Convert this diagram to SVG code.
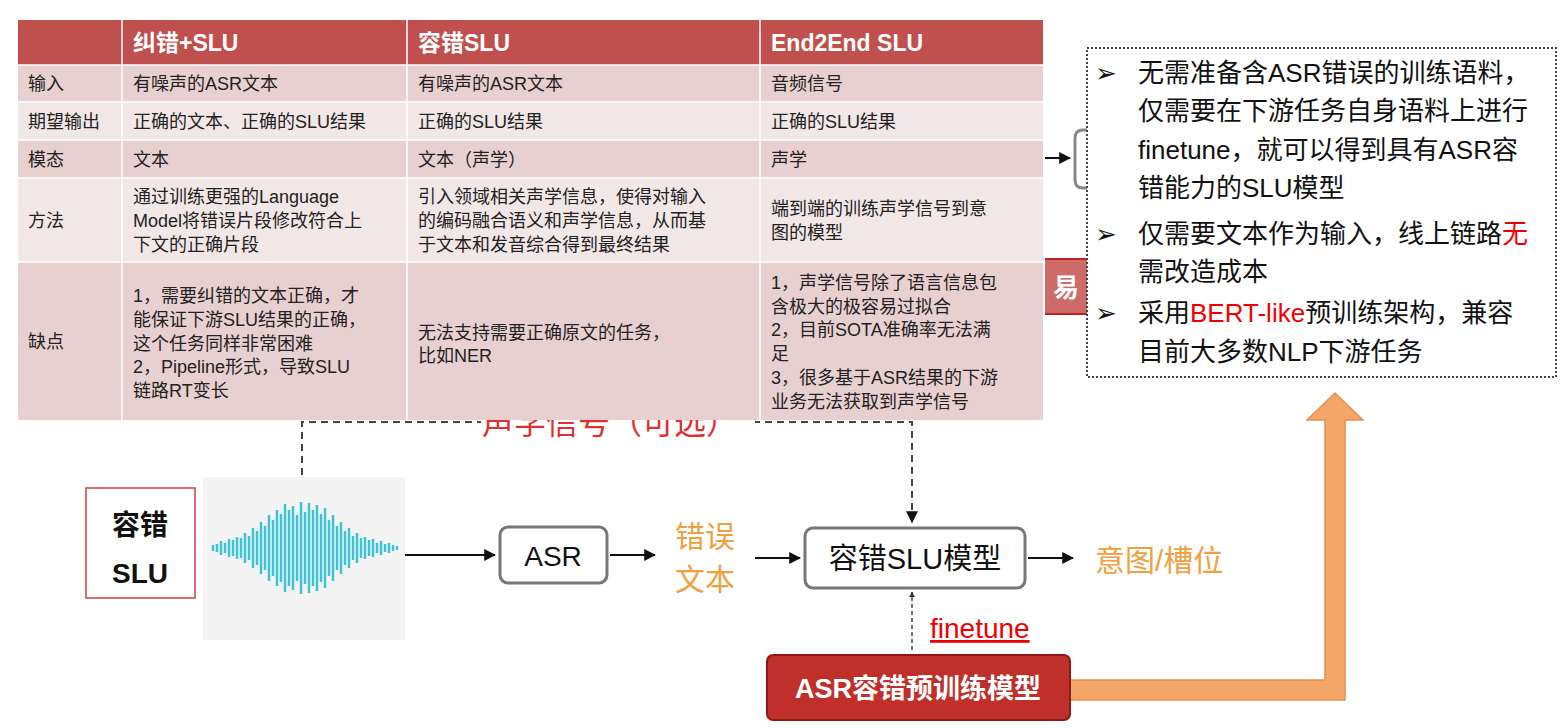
<svg xmlns="http://www.w3.org/2000/svg" width="1563" height="728" viewBox="0 0 1563 728">
<style>
text{font-family:"Liberation Sans","Noto Sans CJK SC",sans-serif}
.c{font-size:18px;fill:#222}
.h{font-size:23px;fill:#fff;font-weight:bold}
.d{fill:#e8d0d0}.l{fill:#f2e7e7}
.b{font-size:26px;fill:#111}
.box{fill:#fff;stroke:#777;stroke-width:3}
.ln{stroke:#111;stroke-width:2;fill:none}
.ds{stroke:#444;stroke-width:2;fill:none;stroke-dasharray:7 5}
.or{font-size:30px;fill:#f0a040}
</style>
<defs>
<marker id="a" viewBox="0 0 10 10" refX="9" refY="5" markerWidth="6" markerHeight="6" orient="auto"><path d="M0,0L10,5L0,10z" fill="#111"/></marker>
<marker id="a2" viewBox="0 0 10 10" refX="9" refY="5" markerWidth="4" markerHeight="4" orient="auto"><path d="M0,0L10,5L0,10z" fill="#333"/></marker>
</defs>
<rect width="1563" height="728" fill="#fff"/>
<g id="connectors">
<path class="ds" d="M302,475V422H912V522" marker-end="url(#a)"/>
<path d="M912,650V592" stroke="#444" stroke-width="1.5" stroke-dasharray="4 3" fill="none" marker-end="url(#a2)"/>
<path class="ln" d="M405,555H495" marker-end="url(#a)"/>
<path class="ln" d="M610,555H655" marker-end="url(#a)"/>
<path class="ln" d="M755,558H800" marker-end="url(#a)"/>
<path class="ln" d="M1028,558H1073" marker-end="url(#a)"/>
<path class="ln" d="M1045,158H1070" marker-end="url(#a)"/>
<path d="M1070,680H1325V420H1307L1335,393L1363,420H1345V700H1070Z" fill="#f2a668" stroke="#e89050" stroke-width="1.5"/>
</g>
<rect x="481" y="415" width="274" height="30" fill="#fff"/>
<text x="610" y="434" font-size="32" fill="#e03030" text-anchor="middle">声学信号（可选）</text>
<g id="table">
<rect x="18" y="20" width="1025" height="45" fill="#c0504d"/>
<rect x="18" y="65" width="1025" height="37" class="d"/>
<rect x="18" y="102" width="1025" height="38" class="l"/>
<rect x="18" y="140" width="1025" height="38" class="d"/>
<rect x="18" y="178" width="1025" height="84" class="l"/>
<rect x="18" y="262" width="1025" height="158" class="d"/>
<g stroke="#fff" stroke-width="1.5"><path d="M122,20V420M407,20V420M760,20V420M18,65H1043M18,102H1043M18,140H1043M18,178H1043M18,262H1043"/></g>
<text class="h" x="133" y="51">纠错+SLU</text><text class="h" x="418" y="51">容错SLU</text><text class="h" x="771" y="51">End2End SLU</text>
<text class="c" x="28" y="90">输入</text><text class="c" x="133" y="90">有噪声的ASR文本</text><text class="c" x="418" y="90">有噪声的ASR文本</text><text class="c" x="771" y="90">音频信号</text>
<text class="c" x="28" y="128">期望输出</text><text class="c" x="133" y="128">正确的文本、正确的SLU结果</text><text class="c" x="418" y="128">正确的SLU结果</text><text class="c" x="771" y="128">正确的SLU结果</text>
<text class="c" x="28" y="166">模态</text><text class="c" x="133" y="166">文本</text><text class="c" x="418" y="166">文本（声学）</text><text class="c" x="771" y="166">声学</text>
<text class="c" x="28" y="227">方法</text>
<text class="c" x="133" y="203">通过训练更强的Language</text><text class="c" x="133" y="227">Model将错误片段修改符合上</text><text class="c" x="133" y="251">下文的正确片段</text>
<text class="c" x="418" y="203">引入领域相关声学信息，使得对输入</text><text class="c" x="418" y="227">的编码融合语义和声学信息，从而基</text><text class="c" x="418" y="251">于文本和发音综合得到最终结果</text>
<text class="c" x="771" y="215">端到端的训练声学信号到意</text><text class="c" x="771" y="239">图的模型</text>
<text class="c" x="28" y="348">缺点</text>
<text class="c" x="133" y="302">1，需要纠错的文本正确，才</text><text class="c" x="133" y="326">能保证下游SLU结果的正确，</text><text class="c" x="133" y="350">这个任务同样非常困难</text><text class="c" x="133" y="373">2，Pipeline形式，导致SLU</text><text class="c" x="133" y="397">链路RT变长</text>
<text class="c" x="418" y="339">无法支持需要正确原文的任务，</text><text class="c" x="418" y="362">比如NER</text>
<text class="c" x="771" y="289">1，声学信号除了语言信息包</text><text class="c" x="771" y="313">含极大的极容易过拟合</text><text class="c" x="771" y="336">2，目前SOTA准确率无法满</text><text class="c" x="771" y="360">足</text><text class="c" x="771" y="384">3，很多基于ASR结果的下游</text><text class="c" x="771" y="408">业务无法获取到声学信号</text>
</g>
<g id="bracket"><path d="M1087,130H1083Q1075,130 1075,138V180Q1075,188 1083,188H1087" fill="none" stroke="#888" stroke-width="3"/></g>
<g id="easy"><rect x="1045" y="258" width="42" height="57" fill="#cd6b69"/><path d="M1045,259H1087M1045,314H1087" stroke="#c02020" stroke-width="2"/><text x="1066" y="297" font-size="26" font-weight="bold" fill="#fff" text-anchor="middle">易</text></g>
<g id="notes">
<rect x="1087" y="48" width="469" height="329" fill="none" stroke="#444" stroke-width="2" stroke-dasharray="2 2"/>
<text class="b" x="1095" y="82">➢</text><text class="b" x="1138" y="82">无需准备含ASR错误的训练语料，</text>
<text class="b" x="1138" y="120">仅需要在下游任务自身语料上进行</text>
<text class="b" x="1138" y="159">finetune，就可以得到具有ASR容</text>
<text class="b" x="1138" y="197">错能力的SLU模型</text>
<text class="b" x="1095" y="243">➢</text><text class="b" x="1138" y="243">仅需要文本作为输入，线上链路<tspan fill="#e00">无</tspan></text>
<text class="b" x="1138" y="281" fill="#e00">需改造成本</text>
<text class="b" x="1095" y="322">➢</text><text class="b" x="1138" y="322">采用<tspan fill="#e00">BERT-like</tspan>预训练架构，兼容</text>
<text class="b" x="1138" y="361">目前大多数NLP下游任务</text>
</g>
<g id="slu-label"><rect x="86" y="488" width="109" height="110" fill="#fff" stroke="#d04040" stroke-width="1.5"/><text x="140" y="535" font-size="28" font-weight="bold" text-anchor="middle" fill="#111">容错</text><text x="140" y="583" font-size="28" font-weight="bold" text-anchor="middle" fill="#111">SLU</text></g>
<g id="wave"><rect x="203" y="477" width="202" height="163" fill="#f4f4f4"/>
<path stroke="#3cc4d4" stroke-width="2.5" fill="none" d="M213,545V551M217,544V552M221,541V555M225,543V553M229,539V557M233,540V556M237,537V559M241,538V558M245,533V563M249,536V560M253,528V568M257,531V565M261,522V574M265,526V570M269,515V581M273,520V576M277,510V586M281,514V582M285,504V592M289,510V586M293,506V590M297,515V581M301,502V594M305,512V584M309,503V593M313,510V586M317,505V591M321,514V582M325,508V588M329,520V576M333,515V581M337,526V570M341,522V574M345,531V565M349,528V568M353,536V560M357,533V563M361,538V558M365,537V559M369,540V556M373,539V557M377,543V553M381,541V555M385,544V552M389,543V553M393,545V551M397,546V550"/></g>
<g id="asr"><rect class="box" x="500" y="527" width="107" height="56" rx="8"/><text x="553" y="566" font-size="28" text-anchor="middle" fill="#111">ASR</text></g>
<g id="errtext"><text class="or" x="705" y="547" text-anchor="middle">错误</text><text class="or" x="705" y="590" text-anchor="middle">文本</text></g>
<g id="model"><rect class="box" x="805" y="528" width="220" height="60" rx="8"/><text x="915" y="569" font-size="29" text-anchor="middle" fill="#111">容错SLU模型</text></g>
<g id="intent"><text class="or" x="1095" y="571">意图/槽位</text></g>
<g id="finetune"><text x="930" y="638" font-size="28" fill="#e00" text-decoration="underline">finetune</text></g>
<g id="pretrain"><rect x="767" y="655" width="303" height="65" rx="6" fill="#c0302a" stroke="#901818" stroke-width="2"/><text x="918" y="698" font-size="27" font-weight="bold" fill="#fff" text-anchor="middle">ASR容错预训练模型</text></g>
</svg>
